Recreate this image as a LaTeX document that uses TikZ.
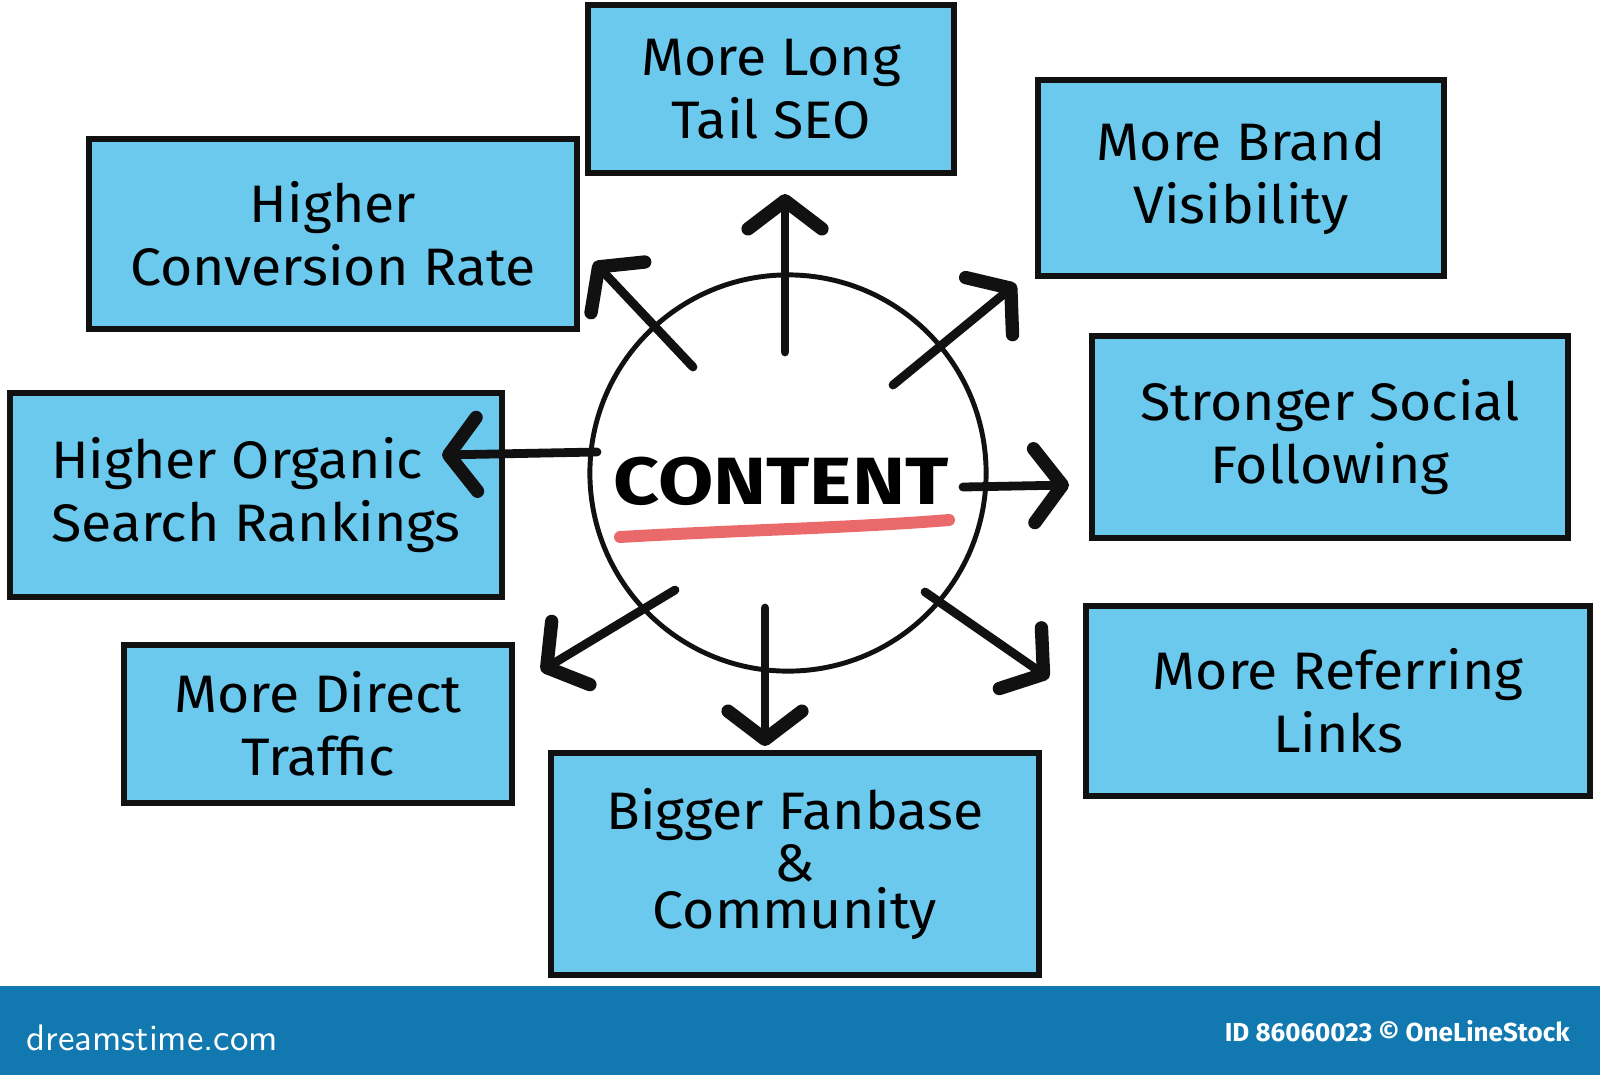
\documentclass[tikz,border=0pt]{standalone}
\usepackage{fontspec}
\setmainfont{Fira Sans}
\newfontfamily\handfont[FakeStretch=1.05]{Fira Sans}
\newfontfamily\hubfont[FakeStretch=1.2]{Fira Sans}
\usetikzlibrary{arrows.meta, positioning, calc}
\definecolor{boxFill}{HTML}{6CC9EE}
\definecolor{inkDark}{HTML}{111111}
\definecolor{markRed}{HTML}{EA6A6C}
\definecolor{barBlue}{HTML}{1178B0}

\begin{document}
\begin{tikzpicture}[x=0.01cm, y=-0.01cm,
    every node/.style={font=\handfont},
    ideabox/.style={
        rectangle, draw=inkDark, line width=1.7pt, fill=boxFill,
        align=center, inner sep=0pt,
        font=\handfont\fontsize{15}{18}\selectfont,
    },
    hub/.style={
        circle, draw=inkDark, line width=1.4pt, fill=white,
        minimum size=3.96cm, inner sep=0pt,
    },
    spoke/.style={
        draw=inkDark, line width=2.5pt, line cap=round,
        -{Straight Barb[length=8pt, width=21pt, line width=3.8pt, round]},
    },
    footer/.style={text=white, font=\sffamily},
]

\useasboundingbox (0,0) rectangle (1600,1075);
\fill[white] (0,0) rectangle (1600,1075);

% ── Outer boxes ───────────────────────────────────────────────────────
\node[ideabox, minimum width=3.65cm, minimum height=1.68cm] (seo)     at (771,89)  {More Long\\Tail SEO};
\node[ideabox, minimum width=4.05cm, minimum height=1.96cm] (brand)   at (1241,178) {More Brand\\Visibility};
\node[ideabox, minimum width=4.87cm, minimum height=1.89cm] (convert) at (333,234)  {Higher\\Conversion Rate};
\node[ideabox, minimum width=4.76cm, minimum height=2.01cm] (social)  at (1330,437) {Stronger Social\\Following};
\node[ideabox, minimum width=4.92cm, minimum height=2.04cm, align=left] (organic) at (256,495)  {Higher Organic\\Search Rankings};
\node[ideabox, minimum width=5.03cm, minimum height=1.89cm] (links)   at (1338,701) {More Referring\\Links};
\node[ideabox, minimum width=3.88cm, minimum height=1.58cm] (traffic) at (318,724)  {More Direct\\Traffic};
\node[ideabox, minimum width=4.88cm, minimum height=2.22cm,
      font=\handfont\fontsize{15}{13.5}\selectfont] (fanbase) at (795,864) {Bigger Fanbase\\\&\\Community};

% ── Centre ────────────────────────────────────────────────────────────
\node[hub] (content) at (788,473) {};
\node[font=\hubfont\bfseries\fontsize{19}{22}\selectfont] (word) at (781,481) {CONTENT};
\draw[markRed, line width=3.4pt, line cap=round]
    (620,537) .. controls (740,530) and (850,528) .. (949,520);

% ── Spokes ────────────────────────────────────────────────────────────
\coordinate (upA)    at (785,352);  \coordinate (upB)    at (785,194);
\coordinate (ulA)    at (693,367);  \coordinate (ulB)    at (594,262);
\coordinate (urA)    at (893,385);  \coordinate (urB)    at (1016,284);
\coordinate (leftA)  at (597,452);  \coordinate (leftB)  at (442,455);
\coordinate (rightA) at (963,487);  \coordinate (rightB) at (1069,485);
\coordinate (llA)    at (675,590);  \coordinate (llB)    at (541,671);
\coordinate (downA)  at (765,608);  \coordinate (downB)  at (765,746);
\coordinate (lrA)    at (925,592);  \coordinate (lrB)    at (1049,678);

\foreach \s in {up, ul, ur, left, right, ll, down, lr}
    \draw[spoke] (\s A) -- (\s B);

% ── Footer bar ────────────────────────────────────────────────────────
\fill[barBlue] (0,986) rectangle (1600,1075);
\node[footer, anchor=west, font=\sffamily\fontsize{10.5}{12}\selectfont] (site) at (14,1038) {dreamstime.com};
\node[footer, anchor=east, font=\bfseries\fontsize{7.4}{9}\selectfont] (credit) at (1582,1031) {ID 86060023 © OneLineStock};

\end{tikzpicture}
\end{document}
